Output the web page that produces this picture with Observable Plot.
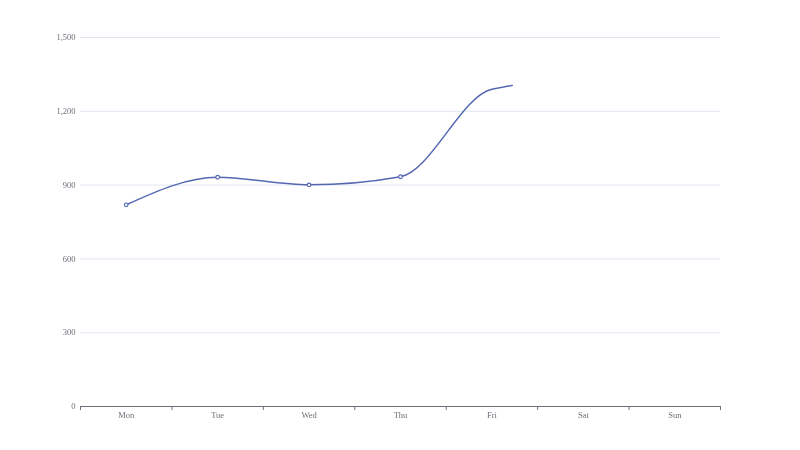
<!DOCTYPE html>
<html>
<head>
<meta charset="utf-8">
<script src="https://cdn.jsdelivr.net/npm/d3@7"></script>
<script src="https://cdn.jsdelivr.net/npm/@observablehq/plot@0.6"></script>
<style>
  html, body { margin: 0; padding: 0; background: #fff; }
  #chart svg { display: block; will-change: transform; }
  #chart svg text { fill: #6e7079; }
</style>
</head>
<body>
<div id="chart"></div>
<script>
const days = ["Mon", "Tue", "Wed", "Thu", "Fri", "Sat", "Sun"];
const values = [820, 932, 901, 934, 1290, 1330, 1320];
const yTicks = [0, 300, 600, 900, 1200, 1500];
// the reference was captured mid-animation: line drawn up to this position (in category units)
const revealedTo = 4.23;
const dotsShown = 4;

const data = values.map((v, i) => ({i, day: days[i], value: v}));
const dotData = data.slice(0, dotsShown);
const bandEdges = d3.range(days.length + 1).map(k => k - 0.5);

const chart = Plot.plot({
  width: 800,
  height: 450,
  marginLeft: 80,
  marginRight: 80,
  marginTop: 37,
  marginBottom: 44,
  style: {fontFamily: "'Liberation Serif', serif", fontSize: "8.5px", color: "#6e7079", background: "transparent"},
  x: {type: "linear", domain: [-0.5, days.length - 0.5], label: null},
  y: {domain: [0, 1500], label: null},
  marks: [
    Plot.gridY(yTicks.filter(t => t > 0), {stroke: "#e0e6f1", strokeOpacity: 1, strokeWidth: 1}),
    Plot.axisY({ticks: yTicks, tickFormat: d3.format(","), tickSize: 0, tickPadding: 5, label: null}),
    Plot.ruleY([0], {stroke: "#6e7079", strokeWidth: 1}),
    Plot.axisX({ticks: bandEdges, tickFormat: () => "", tickSize: 4, stroke: "#6e7079", strokeOpacity: 1, label: null}),
    Plot.axisX({ticks: d3.range(days.length), tickFormat: i => days[i], tickSize: 0, tickPadding: 5, label: null}),
    Plot.line(data, {
      x: "i", y: "value", curve: "monotone-x", stroke: "#5468b2", strokeWidth: 1.5,
      render(index, scales, values, dimensions, context, next) {
        const g = next(index, scales, values, dimensions, context);
        const id = "reveal-clip";
        const svgNS = "http://www.w3.org/2000/svg";
        const defs = document.createElementNS(svgNS, "defs");
        const cp = document.createElementNS(svgNS, "clipPath");
        cp.setAttribute("id", id);
        const rect = document.createElementNS(svgNS, "rect");
        rect.setAttribute("x", 0);
        rect.setAttribute("y", 0);
        rect.setAttribute("width", scales.x(revealedTo));
        rect.setAttribute("height", dimensions.height);
        cp.appendChild(rect);
        defs.appendChild(cp);
        g.insertBefore(defs, g.firstChild);
        g.setAttribute("clip-path", `url(#${id})`);
        return g;
      }
    }),
    Plot.dot(dotData, {x: "i", y: "value", r: 1.8, fill: "#fff", stroke: "#5468b2", strokeWidth: 1.2})
  ]
});
document.getElementById("chart").appendChild(chart);
</script>
</body>
</html>
